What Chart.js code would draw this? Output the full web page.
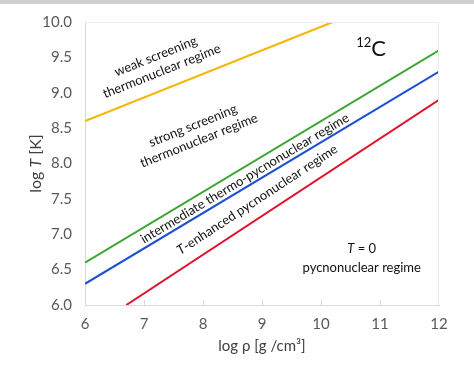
<!DOCTYPE html>
<html>
<head>
<meta charset="utf-8">
<script src="https://cdn.jsdelivr.net/npm/chart.js@4"></script>
<style>
  html, body { margin: 0; padding: 0; background: #fff; }
  #wrap { width: 474px; height: 372px; position: relative; }
  #topbar { position: absolute; left: 0; top: 0; width: 474px; height: 4px; background: #cfcfcf; }
</style>
</head>
<body>
<div id="wrap">
  <canvas id="regimes" width="474" height="372"></canvas>
  <div id="topbar"></div>
</div>
<script>
// boundary lines, log rho vs log T
const weakRho = [6, 10.2];
const weakT = [8.6, 10.0];
const interUpperRho = [6, 12];
const interUpperT = [6.6, 9.6];
const interLowerRho = [6, 12];
const interLowerT = [6.3, 9.3];
const pycnoRho = [6.7, 12];
const pycnoT = [6.0, 8.9];

const xTicks = [6, 7, 8, 9, 10, 11, 12];
const yTicks = [6.0, 6.5, 7.0, 7.5, 8.0, 8.5, 9.0, 9.5, 10.0];

const FONT = "Lato, 'Open Sans', sans-serif";

function pts(xs, ys) {
  return xs.map((x, i) => ({ x: x, y: ys[i] }));
}

// region labels, placed in data units, rotated along a boundary line
const regionLabels = [
  { lines: ['weak screening', 'thermonuclear regime'], x: 7.25, y: 9.41, along: 0 },
  { lines: ['strong screening', 'thermonuclear regime'], x: 7.88, y: 8.43, along: 0 },
  { lines: ['intermediate thermo-pycnonuclear regime'], x: 8.71, y: 7.79, along: 1 },
  { lines: ['-enhanced pycnonuclear regime'], x: 8.92, y: 7.49, along: 3, italicT: true },
];

const seriesX = [weakRho, interUpperRho, interLowerRho, pycnoRho];
const seriesY = [weakT, interUpperT, interLowerT, pycnoT];

const textPlugin = {
  id: 'regimeText',
  afterDraw(chart) {
    const c = chart.ctx;
    const xs = chart.scales.x, ys = chart.scales.y;
    const area = chart.chartArea;

    // frame
    c.save();
    c.strokeStyle = '#ececec';
    c.lineWidth = 1;
    c.beginPath();
    c.moveTo(area.left, area.top + 0.5);
    c.lineTo(area.right - 0.5, area.top + 0.5);
    c.lineTo(area.right - 0.5, area.bottom);
    c.stroke();
    // inner tick marks on x axis
    c.strokeStyle = '#d9d9d9';
    xTicks.slice(1, -1).forEach(v => {
      const px = Math.round(xs.getPixelForValue(v)) + 0.5;
      c.beginPath();
      c.moveTo(px, area.bottom);
      c.lineTo(px, area.bottom - 5);
      c.stroke();
    });
    c.restore();

    c.save();
    c.fillStyle = '#111';
    c.font = '13px ' + FONT;
    c.textAlign = 'center';
    c.textBaseline = 'middle';
    regionLabels.forEach(lab => {
      const sx = seriesX[lab.along], sy = seriesY[lab.along];
      const dx = xs.getPixelForValue(sx[1]) - xs.getPixelForValue(sx[0]);
      const dy = ys.getPixelForValue(sy[1]) - ys.getPixelForValue(sy[0]);
      const ang = Math.atan2(dy, dx);
      c.save();
      c.translate(xs.getPixelForValue(lab.x), ys.getPixelForValue(lab.y));
      c.rotate(ang);
      lab.lines.forEach((t, i) => {
        const off = (i - (lab.lines.length - 1) / 2) * 16;
        if (lab.italicT) {
          c.font = '13px ' + FONT;
          const w = c.measureText(t).width;
          c.font = 'italic 13px ' + FONT;
          const wt = c.measureText('T').width;
          const start = -(w + wt) / 2;
          c.textAlign = 'left';
          c.fillText('T', start, off);
          c.font = '13px ' + FONT;
          c.fillText(t, start + wt, off);
          c.textAlign = 'center';
        } else {
          c.fillText(t, 0, off);
        }
      });
      c.restore();
    });

    // T = 0 pycnonuclear regime
    const px = xs.getPixelForValue(10.69);
    c.font = 'italic 13px ' + FONT;
    const wT = c.measureText('T').width;
    c.font = '13px ' + FONT;
    const wR = c.measureText(' = 0').width;
    c.textAlign = 'left';
    c.font = 'italic 13px ' + FONT;
    c.fillText('T', px - (wT + wR) / 2, ys.getPixelForValue(6.79));
    c.font = '13px ' + FONT;
    c.fillText(' = 0', px - (wT + wR) / 2 + wT, ys.getPixelForValue(6.79));
    c.textAlign = 'center';
    c.fillText('pycnonuclear regime', px, ys.getPixelForValue(6.53));

    // 12C
    const cx = xs.getPixelForValue(10.85), cy = ys.getPixelForValue(9.62);
    c.font = '22px ' + FONT;
    const wC = c.measureText('C').width;
    c.font = '13px ' + FONT;
    const w12 = c.measureText('12').width;
    c.textAlign = 'left';
    c.fillText('12', cx - (wC + w12) / 2, cy - 6);
    c.font = '22px ' + FONT;
    c.fillText('C', cx - (wC + w12) / 2 + w12, cy);

    // y axis title with italic T
    c.translate(36, (area.top + area.bottom) / 2);
    c.rotate(-Math.PI / 2);
    c.fillStyle = '#404040';
    c.font = '16px ' + FONT;
    const a = 'log ', b = ' [K]';
    const wa = c.measureText(a).width, wb = c.measureText(b).width;
    c.font = 'italic 16px ' + FONT;
    const wt = c.measureText('T').width;
    let s = -(wa + wb + wt) / 2;
    c.font = '16px ' + FONT;
    c.fillText(a, s, 0);
    c.font = 'italic 16px ' + FONT;
    c.fillText('T', s + wa, 0);
    c.font = '16px ' + FONT;
    c.fillText(b, s + wa + wt, 0);
    c.restore();
  }
};

const colors = ['#f5b400', '#3aa832', '#1c4fd6', '#e2112b'];

new Chart(document.getElementById('regimes'), {
  type: 'scatter',
  data: {
    datasets: seriesX.map((xs, i) => ({
      data: pts(xs, seriesY[i]),
      showLine: true,
      borderColor: colors[i],
      borderWidth: 2,
      pointRadius: 0,
      fill: false,
    })),
  },
  options: {
    responsive: false,
    animation: false,
    layout: { padding: { top: 18, right: 35, left: 0, bottom: 0 } },
    plugins: { legend: { display: false }, tooltip: { enabled: false } },
    scales: {
      x: {
        type: 'linear',
        min: 6, max: 12,
        afterBuildTicks: s => { s.ticks = xTicks.map(v => ({ value: v })); },
        afterFit: s => { s.height = 67; },
        grid: { display: false, drawTicks: false },
        border: { color: '#d9d9d9', width: 1 },
        ticks: { color: '#595959', font: { family: FONT, size: 15 }, padding: 10 },
        title: {
          display: true,
          text: 'log ρ [g /cm³]',
          color: '#404040',
          font: { family: FONT, size: 15 },
          padding: { top: 4, bottom: 17 },
        },
      },
      y: {
        type: 'linear',
        min: 6, max: 10,
        afterBuildTicks: s => { s.ticks = yTicks.map(v => ({ value: v })); },
        afterFit: s => { s.width = 85; },
        grid: { display: false, drawTicks: false },
        border: { color: '#d9d9d9', width: 1 },
        ticks: {
          color: '#595959',
          font: { family: FONT, size: 15 },
          padding: 13,
          callback: v => v.toFixed(1),
        },
      },
    },
  },
  plugins: [textPlugin],
});
</script>
</body>
</html>
